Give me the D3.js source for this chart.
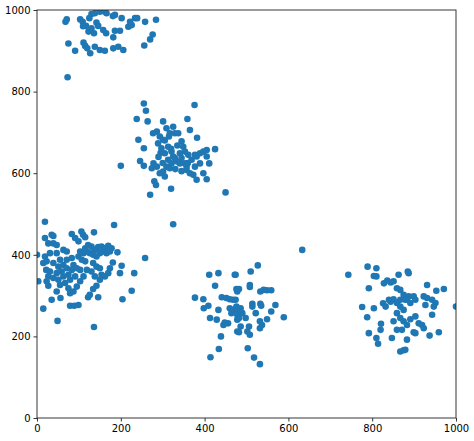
<!DOCTYPE html>
<html>
<head>
<meta charset="utf-8">
<script src="https://cdn.jsdelivr.net/npm/d3@7"></script>
<style>
body { margin: 0; background: #fff; }
svg text { font-family: "DejaVu Sans", sans-serif; }
</style>
</head>
<body>
<div id="chart"></div>
<script>
// axis ticks
const xTicks = [0, 200, 400, 600, 800, 1000];
const yTicks = [0, 200, 400, 600, 800, 1000];

// clusters, [x, y]
const clusterTop = [
  [68,971],[71,977],[103,977],[109,971],[117,961],[123,947],[130,955],[136,943],
  [142,969],[146,961],[130,990],[138,992],[150,996],[162,996],[166,992],[158,951],
  [165,943],[186,949],[198,949],[182,933],[181,985],[186,988],[202,980],[218,959],
  [226,963],[222,971],[234,980],[239,980],[258,971],[284,976],[276,940],[270,928],
  [256,913],[75,918],[91,900],[111,920],[115,912],[120,906],[127,894],[138,910],
  [150,902],[162,900],[182,906],[194,910],[206,902],[73,835],[125,980],[110,960]
];

const clusterMid = [
  [255,771],[260,753],[238,733],[264,727],[301,727],[376,767],[359,733],[365,706],
  [382,687],[242,682],[255,661],[246,630],[255,618],[200,618],[277,698],[286,702],
  [293,690],[301,682],[309,710],[317,698],[325,714],[329,698],[337,698],[345,678],
  [349,665],[289,673],[297,661],[305,649],[313,665],[321,653],[325,641],[333,629],
  [341,649],[353,653],[361,645],[369,633],[381,641],[389,649],[397,653],[405,657],
  [425,659],[411,624],[389,624],[377,616],[357,608],[365,600],[381,584],[405,585],
  [397,600],[373,596],[357,616],[345,637],[313,633],[309,616],[301,604],[293,600],
  [286,616],[274,612],[278,624],[321,624],[329,637],[317,612],[305,592],[280,580],
  [284,571],[270,547],[320,562],[450,553],[377,645],[405,641],[353,624],[341,624],
  [305,680],[315,690],[295,650],[320,660],[335,668],[300,625],[290,640],[330,610],
  [360,625],[345,605],[325,475]
];

const clusterLeft = [
  [19,481],[184,473],[136,455],[106,457],[110,449],[115,443],[83,451],[91,441],
  [99,433],[35,449],[39,446],[19,441],[27,428],[39,428],[47,424],[63,412],
  [71,408],[47,404],[31,404],[19,396],[115,416],[122,424],[130,420],[138,412],
  [146,419],[154,420],[162,416],[170,422],[178,416],[174,408],[166,404],[158,408],
  [150,404],[142,396],[134,400],[126,404],[119,408],[111,404],[103,408],[99,396],
  [107,388],[115,384],[192,406],[258,392],[202,373],[198,355],[181,381],[174,367],
  [170,355],[162,347],[150,339],[154,351],[232,355],[226,312],[204,291],[146,296],
  [126,302],[122,296],[134,316],[142,324],[79,275],[89,275],[99,277],[56,294],
  [35,290],[47,310],[27,324],[23,335],[27,347],[31,359],[22,363],[15,380],
  [23,384],[15,268],[49,238],[136,223],[3,335],[39,380],[51,371],[63,375],
  [71,367],[59,359],[47,355],[39,343],[51,339],[63,347],[75,351],[83,363],
  [87,375],[95,367],[79,339],[67,331],[55,326],[75,318],[87,310],[79,306],
  [95,322],[103,335],[111,347],[119,363],[103,363],[91,347],[55,388],[71,388],
  [83,392],[134,380],[142,371],[130,359],[138,347],[150,367],[0,400]
];

const clusterLow = [
  [377,295],[397,291],[398,269],[409,275],[413,245],[411,351],[433,355],[425,324],
  [441,296],[452,294],[460,291],[468,290],[472,351],[476,316],[460,269],[468,265],
  [476,273],[464,257],[433,265],[429,241],[445,228],[448,234],[456,232],[439,200],
  [434,169],[414,149],[478,212],[478,253],[478,241],[474,351],[482,316],[478,310],
  [474,290],[486,269],[478,261],[490,257],[498,245],[482,245],[486,224],[506,224],
  [502,212],[482,210],[508,204],[503,171],[518,148],[532,132],[510,359],[527,374],
  [508,326],[508,321],[514,280],[514,273],[522,257],[533,310],[541,314],[549,313],
  [559,313],[533,280],[535,275],[559,261],[569,277],[549,242],[532,237],[537,228],
  [532,220],[589,247],[633,412]
];

const clusterRight = [
  [743,351],[789,371],[810,367],[804,348],[810,347],[792,318],[776,272],[804,269],
  [788,247],[792,208],[810,196],[814,182],[820,216],[821,231],[826,281],[832,273],
  [828,330],[836,337],[844,332],[840,290],[844,285],[851,291],[851,237],[847,196],
  [863,351],[885,359],[887,355],[851,335],[859,318],[867,314],[875,302],[867,290],
  [859,282],[867,273],[875,265],[883,290],[891,282],[899,298],[887,298],[879,290],
  [903,290],[859,257],[867,245],[875,237],[883,228],[891,242],[903,249],[911,232],
  [919,228],[923,220],[859,216],[871,216],[883,192],[867,163],[875,166],[879,167],
  [899,210],[903,208],[931,326],[923,298],[931,294],[943,290],[951,282],[927,277],
  [947,273],[943,253],[953,312],[971,316],[937,202],[959,210],[1000,273]
];

const points = [].concat(clusterTop, clusterMid, clusterLeft, clusterLow, clusterRight);

const width = 474, height = 441;
const margin = {top: 10, right: 18, bottom: 23, left: 37};
const w = width - margin.left - margin.right;
const h = height - margin.top - margin.bottom;

const svg = d3.select('#chart').append('svg')
  .attr('width', width)
  .attr('height', height);

const g = svg.append('g')
  .attr('transform', 'translate(' + margin.left + ',' + margin.top + ')');

const x = d3.scaleLinear().domain([0, 1000]).range([0, w]);
const y = d3.scaleLinear().domain([0, 1000]).range([h, 0]);

g.append('clipPath').attr('id', 'clip')
  .append('rect').attr('width', w).attr('height', h);

g.append('g').attr('clip-path', 'url(#clip)')
  .selectAll('circle').data(points).enter()
  .append('circle')
  .attr('cx', d => x(d[0]))
  .attr('cy', d => y(d[1]))
  .attr('r', 3.3)
  .attr('fill', '#1f77b4');

const fmt = d3.format('d');
const xa = g.append('g')
  .attr('transform', 'translate(0,' + h + ')')
  .call(d3.axisBottom(x).tickValues(xTicks).tickFormat(fmt)
    .tickSize(3.5).tickPadding(3).tickSizeOuter(0));
const ya = g.append('g')
  .call(d3.axisLeft(y).tickValues(yTicks).tickFormat(fmt)
    .tickSize(3.5).tickPadding(3).tickSizeOuter(0));

[xa, ya].forEach(a => {
  a.select('.domain').remove();
  a.selectAll('line').attr('stroke', '#000').attr('stroke-width', 0.8);
  a.selectAll('text').attr('font-size', 10).attr('fill', '#000')
    .style('font-family', '"DejaVu Sans", sans-serif');
});

// frame
g.append('rect')
  .attr('width', w).attr('height', h)
  .attr('fill', 'none')
  .attr('stroke', '#222')
  .attr('stroke-width', 0.9);
</script>
</body>
</html>
